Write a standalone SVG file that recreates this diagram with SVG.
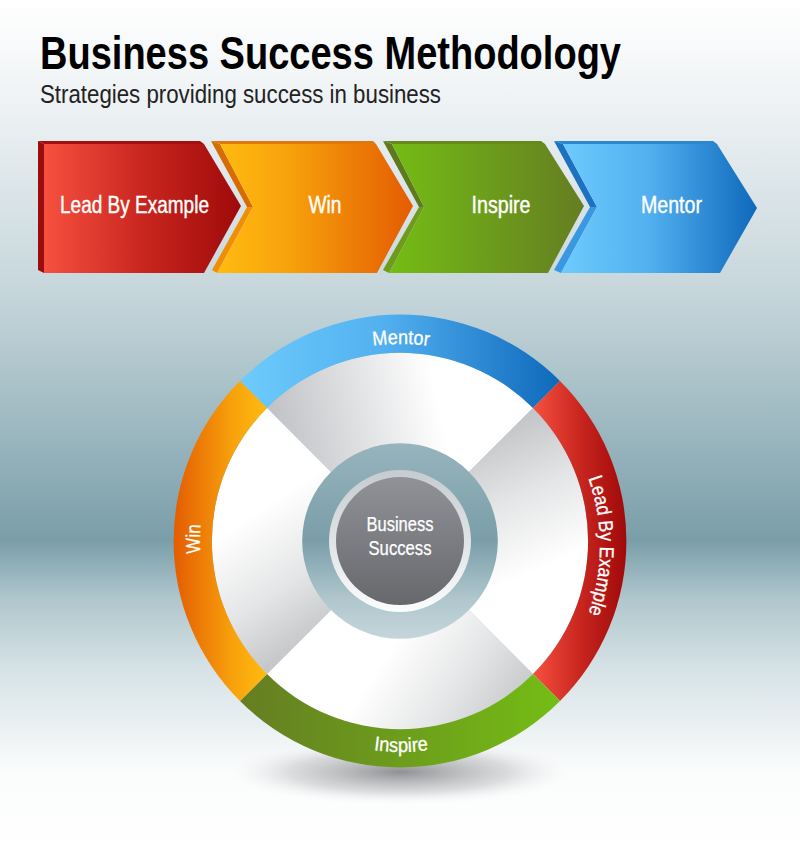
<svg xmlns="http://www.w3.org/2000/svg" width="800" height="857" viewBox="0 0 800 857">
<style>
text{font-family:"Liberation Sans",Arial,sans-serif;fill:#fff;}
.lbl{font-size:23px;text-anchor:middle;stroke:#fff;stroke-width:.4px;}
.ring{font-size:20px;stroke:#fff;stroke-width:.3px;}
.hubt{font-size:20px;text-anchor:middle;stroke:#fff;stroke-width:.25px;}
.title{font-size:46px;font-weight:bold;fill:#000;}
.sub{font-size:26px;fill:#222;}
</style>
<defs>
<linearGradient id="bg" x1="0" y1="0" x2="0" y2="1">
<stop offset="0" stop-color="#fff"/><stop offset=".12" stop-color="#eef2f4"/><stop offset=".35" stop-color="#c4d5da"/><stop offset=".63" stop-color="#7a9ea9"/><stop offset=".7" stop-color="#b0c7cd"/><stop offset=".78" stop-color="#d6e2e6"/><stop offset=".9" stop-color="#fbfcfc"/><stop offset="1" stop-color="#fff"/>
</linearGradient>
<linearGradient id="red" x1="0" y1="0" x2="1" y2="0"><stop offset="0" stop-color="#f6503f"/><stop offset=".5" stop-color="#c9261f"/><stop offset="1" stop-color="#9f0a0a"/></linearGradient>
<linearGradient id="org" x1="0" y1="0" x2="1" y2="0"><stop offset="0" stop-color="#ffbb10"/><stop offset=".35" stop-color="#f8a30c"/><stop offset="1" stop-color="#e45c02"/></linearGradient>
<linearGradient id="grn" x1="0" y1="0" x2="1" y2="0"><stop offset="0" stop-color="#74bd15"/><stop offset="1" stop-color="#657d22"/></linearGradient>
<linearGradient id="blu" x1="0" y1="0" x2="1" y2="0"><stop offset="0" stop-color="#6dcbfc"/><stop offset=".45" stop-color="#52b0f0"/><stop offset="1" stop-color="#0e69bb"/></linearGradient>
<linearGradient id="orgR" x1="0" y1="0" x2="1" y2="0"><stop offset="0" stop-color="#e45c02"/><stop offset=".65" stop-color="#f8a30c"/><stop offset="1" stop-color="#ffbb10"/></linearGradient>
<linearGradient id="grnR" x1="0" y1="0" x2="1" y2="0"><stop offset="0" stop-color="#657d22"/><stop offset="1" stop-color="#74bd15"/></linearGradient>
<linearGradient id="wT" x1="0" y1=".25" x2="1" y2=".15"><stop offset="0" stop-color="#c2c3c6"/><stop offset=".3" stop-color="#dfe0e2"/><stop offset=".62" stop-color="#fff"/></linearGradient>
<linearGradient id="wB" x1="0" y1=".5" x2="1" y2=".8"><stop offset=".38" stop-color="#fff"/><stop offset=".7" stop-color="#e4e5e6"/><stop offset="1" stop-color="#c2c3c6"/></linearGradient>
<linearGradient id="wL" x1=".3" y1="0" x2=".6" y2="1"><stop offset=".38" stop-color="#fff"/><stop offset=".7" stop-color="#e4e5e6"/><stop offset="1" stop-color="#bfc0c3"/></linearGradient>
<linearGradient id="wR" x1=".4" y1="0" x2=".6" y2="1"><stop offset="0" stop-color="#bfc0c3"/><stop offset=".32" stop-color="#e4e5e6"/><stop offset=".62" stop-color="#fff"/></linearGradient>
<linearGradient id="hub" x1="0" y1="0" x2="0" y2="1"><stop offset="0" stop-color="#909297"/><stop offset="1" stop-color="#66686c"/></linearGradient>
<linearGradient id="hubRing" x1="0" y1="0" x2="0" y2="1"><stop offset="0" stop-color="#c5cbcf"/><stop offset="1" stop-color="#fbfcfc"/></linearGradient>
<radialGradient id="shd"><stop offset="0" stop-color="#8f9194"/><stop offset=".6" stop-color="#cfd1d3" stop-opacity=".75"/><stop offset="1" stop-color="#fff" stop-opacity="0"/></radialGradient>
<path id="pMentor" d="M204 541A197 197 0 0 1 598 541"/>
<path id="pLead" d="M400 346A200 200 0 0 1 400 746"/>
<path id="pWin" d="M400 739A200 200 0 0 1 400 339"/>
<path id="pInspire" d="M190 541A211 211 0 0 0 612 541"/>
</defs>

<rect id="background" width="800" height="857" fill="url(#bg)"/>

<g id="heading">
<text class="title" x="40" y="69" textLength="581" lengthAdjust="spacingAndGlyphs">Business Success Methodology</text>
<text class="sub" x="40" y="103" textLength="401" lengthAdjust="spacingAndGlyphs">Strategies providing success in business</text>
</g>

<g id="step-lead">
<path d="M38 141L200 141L204 144L44 144Z" fill="#a30e0e"/>
<path d="M38 141L44 144L44 273L38 270Z" fill="#9c0c0c"/>
<path d="M44 144H204L241 206L204 273H44Z" fill="url(#red)"/>
<text class="lbl" x="134.500" y="213" textLength="149" lengthAdjust="spacingAndGlyphs">Lead By Example</text>
</g>
<g id="step-win">
<path d="M211 141H373L376 144H220Z" fill="#e0780a"/>
<path d="M211 141L247 207H253L220 144Z" fill="#d76c04"/>
<path d="M247 207L212 270L217 273L253 207Z" fill="#f08e08"/>
<path d="M220 144H376L413 206L377 273H217L253 207Z" fill="url(#org)"/>
<text class="lbl" x="325" y="213" textLength="33" lengthAdjust="spacingAndGlyphs">Win</text>
</g>
<g id="step-inspire">
<path d="M383 141H541L545 144H392Z" fill="#668a1c"/>
<path d="M383 141L419 207H424L392 144Z" fill="#5f7a1c"/>
<path d="M419 207L383 270L389 273L424 207Z" fill="#6f9a1c"/>
<path d="M392 144H545L584 206L548 273H389L424 207Z" fill="url(#grn)"/>
<text class="lbl" x="501" y="213" textLength="59" lengthAdjust="spacingAndGlyphs">Inspire</text>
</g>
<g id="step-mentor">
<path d="M554 141H713L717 144H563Z" fill="#2c86d0"/>
<path d="M554 141L590 207H597L563 144Z" fill="#1d72c0"/>
<path d="M590 207L554 270L561 273L597 207Z" fill="#3a98e2"/>
<path d="M563 144H717L757 208L720 273H561L597 207Z" fill="url(#blu)"/>
<text class="lbl" x="671.500" y="213" textLength="61" lengthAdjust="spacingAndGlyphs">Mentor</text>
</g>

<ellipse id="shadow" cx="400" cy="772" rx="182" ry="34" fill="url(#shd)"/>

<g id="wheel-wedges">
<path d="M267 408A188 188 0 0 1 533 408L469 472A97 97 0 0 0 331 472Z" fill="url(#wT)"/>
<path d="M533 408A188 188 0 0 1 533 674L469 610A97 97 0 0 0 469 472Z" fill="url(#wR)"/>
<path d="M533 674A188 188 0 0 1 267 674L331 610A97 97 0 0 0 469 610Z" fill="url(#wB)"/>
<path d="M267 674A188 188 0 0 1 267 408L331 472A97 97 0 0 0 331 610Z" fill="url(#wL)"/>
</g>

<g id="ring-mentor">
<path d="M240 381A226 226 0 0 1 560 381L533 408A188 188 0 0 0 267 408Z" fill="url(#blu)"/>
<text class="ring"><textPath href="#pMentor" startOffset="50%" text-anchor="middle" textLength="56" lengthAdjust="spacingAndGlyphs">Mentor</textPath></text>
</g>
<g id="ring-lead">
<path d="M560 381A226 226 0 0 1 560 701L533 674A188 188 0 0 0 533 408Z" fill="url(#red)"/>
<text class="ring"><textPath href="#pLead" startOffset="50%" text-anchor="middle" textLength="138" lengthAdjust="spacingAndGlyphs">Lead By Example</textPath></text>
</g>
<g id="ring-inspire">
<path d="M560 701A226 226 0 0 1 240 701L267 674A188 188 0 0 0 533 674Z" fill="url(#grnR)"/>
<text class="ring"><textPath href="#pInspire" startOffset="50%" text-anchor="middle" textLength="55" lengthAdjust="spacingAndGlyphs">Inspire</textPath></text>
</g>
<g id="ring-win">
<path d="M240 701A226 226 0 0 1 240 381L267 408A188 188 0 0 0 267 674Z" fill="url(#orgR)"/>
<text class="ring"><textPath href="#pWin" startOffset="50%" text-anchor="middle" textLength="29" lengthAdjust="spacingAndGlyphs">Win</textPath></text>
</g>

<g id="hub-center">
<circle cx="400" cy="541" r="71" fill="url(#hubRing)"/>
<circle cx="400" cy="541" r="64" fill="url(#hub)"/>
<text class="hubt" x="400" y="531" textLength="67" lengthAdjust="spacingAndGlyphs">Business</text>
<text class="hubt" x="400" y="555" textLength="63" lengthAdjust="spacingAndGlyphs">Success</text>
</g>
</svg>
